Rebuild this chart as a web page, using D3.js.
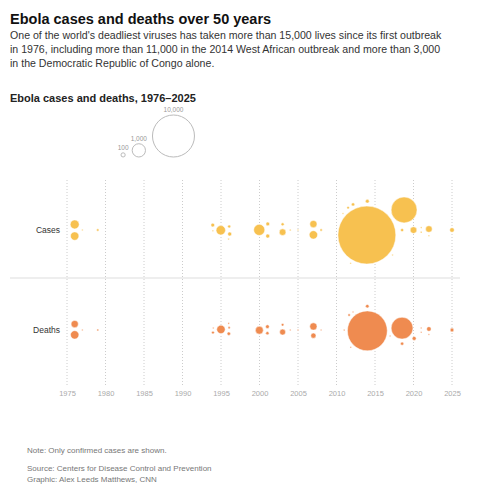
<!DOCTYPE html>
<html><head><meta charset="utf-8">
<script src="https://cdn.jsdelivr.net/npm/d3@7"></script>
<style>body{margin:0;background:#fff;font-family:"Liberation Sans",Arial,sans-serif}</style>
</head><body><svg id="c" width="492" height="500"></svg>
<script>
const years  = [1976,1976,1977,1979,1994,1994,1995,1996,1996,1996,2000,2001,2001,2003,2003,2004,2005,2007,2007,2008,2011,2012,2012,2012,2014,2014,2017,2018,2018,2020,2021,2021,2022,2022,2025];
const cases  = [450,400,1,34,80,1,500,50,90,1,700,90,80,250,50,17,12,400,300,32,1,36,62,7,19000,80,8,3800,54,250,12,16,250,5,120];
const deaths = [300,400,1,22,45,1,400,30,70,1,350,80,60,200,40,7,10,300,150,14,1,13,34,4,9000,70,4,2700,60,90,6,9,120,2,80];
const rows = ["Cases","Deaths"];
const legendVals = [100,1000,10000];
const xTicks = [1975,1980,1985,1990,1995,2000,2005,2010,2015,2020,2025];
const colors = {Cases:"#f7c150",Deaths:"#ef8b50"};

const svg = d3.select("#c");
const t = svg.append("g");
t.append("text").attr("x",10).attr("y",24).attr("font-size",14.5).attr("font-weight","bold").attr("fill","#111").text("Ebola cases and deaths over 50 years");
["One of the world's deadliest viruses has taken more than 15,000 lives since its first outbreak","in 1976, including more than 11,000 in the 2014 West African outbreak and more than 3,000","in the Democratic Republic of Congo alone."].forEach((s,i)=>
 t.append("text").attr("x",10).attr("y",39+i*14).attr("font-size",10.6).attr("fill","#333").text(s));
t.append("text").attr("x",10).attr("y",102).attr("font-size",11).attr("font-weight","bold").attr("fill","#222").text("Ebola cases and deaths, 1976–2025");

const x = d3.scaleLinear().domain([1975,2025]).range([67,452]);
const r = d3.scaleSqrt().domain([0,10000]).range([0,21]);
const y = d3.scalePoint().domain(rows).range([230,330]);

let lx=121;
legendVals.forEach((v,i)=>{
  const rr=r(v); const cx = lx+rr; const cy=157-rr;
  svg.append("circle").attr("cx",cx).attr("cy",cy).attr("r",rr).attr("fill","none").attr("stroke","#bbb");
  svg.append("text").attr("x",cx).attr("y",cy-rr-3).attr("text-anchor","middle").attr("font-size",6.5).attr("fill","#999").text(d3.format(",")(v));
  lx = cx+rr+7;
});

xTicks.forEach(v=>{
  svg.append("line").attr("x1",x(v)).attr("x2",x(v)).attr("y1",180).attr("y2",385).attr("stroke","#ccc").attr("stroke-dasharray","1,2");
});
svg.append("g").attr("transform","translate(0,388)").call(d3.axisBottom(x).tickValues(xTicks).tickFormat(d3.format("d")).tickSize(0))
 .call(g=>{g.select(".domain").remove();g.selectAll("text").attr("font-size",7.5).attr("fill","#aaa").attr("font-family","Liberation Sans,Arial");});
svg.append("line").attr("x1",10).attr("x2",460).attr("y1",278).attr("y2",278).attr("stroke","#ddd");

rows.forEach(row=>{
  svg.append("text").attr("x",60).attr("y",y(row)+3).attr("text-anchor","end").attr("font-size",8.5).attr("fill","#333").text(row);
  const vals = row==="Cases"?cases:deaths;
  const nodes = years.map((yr,i)=>({v:vals[i],yr,tx:x(yr)+(yr===2018?4:0),r:r(vals[i])})).sort((a,b)=>b.v-a.v);
  nodes.forEach(n=>{n.x=n.tx;n.y=y(row)+(n.yr===2018?-15:0);});
  const sim=d3.forceSimulation(nodes).force("x",d3.forceX(d=>d.tx).strength(0.9))
   .force("y",d3.forceY(y(row)).strength(0.06)).force("c",d3.forceCollide(d=>d.r+1.5)).stop();
  for(let i=0;i<300;i++) sim.tick();
  svg.append("g").selectAll("circle").data(nodes).join("circle")
   .attr("cx",d=>d.x).attr("cy",d=>d.y).attr("r",d=>Math.max(d.r,0.8)).attr("fill",colors[row]).attr("stroke","#fff").attr("stroke-width",0.5);
});

svg.append("text").attr("x",27).attr("y",453).attr("font-size",8).attr("fill","#777").text("Note: Only confirmed cases are shown.");
svg.append("text").attr("x",27).attr("y",471).attr("font-size",8).attr("fill","#777").text("Source: Centers for Disease Control and Prevention");
svg.append("text").attr("x",27).attr("y",482).attr("font-size",8).attr("fill","#777").text("Graphic: Alex Leeds Matthews, CNN");
</script></body></html>
